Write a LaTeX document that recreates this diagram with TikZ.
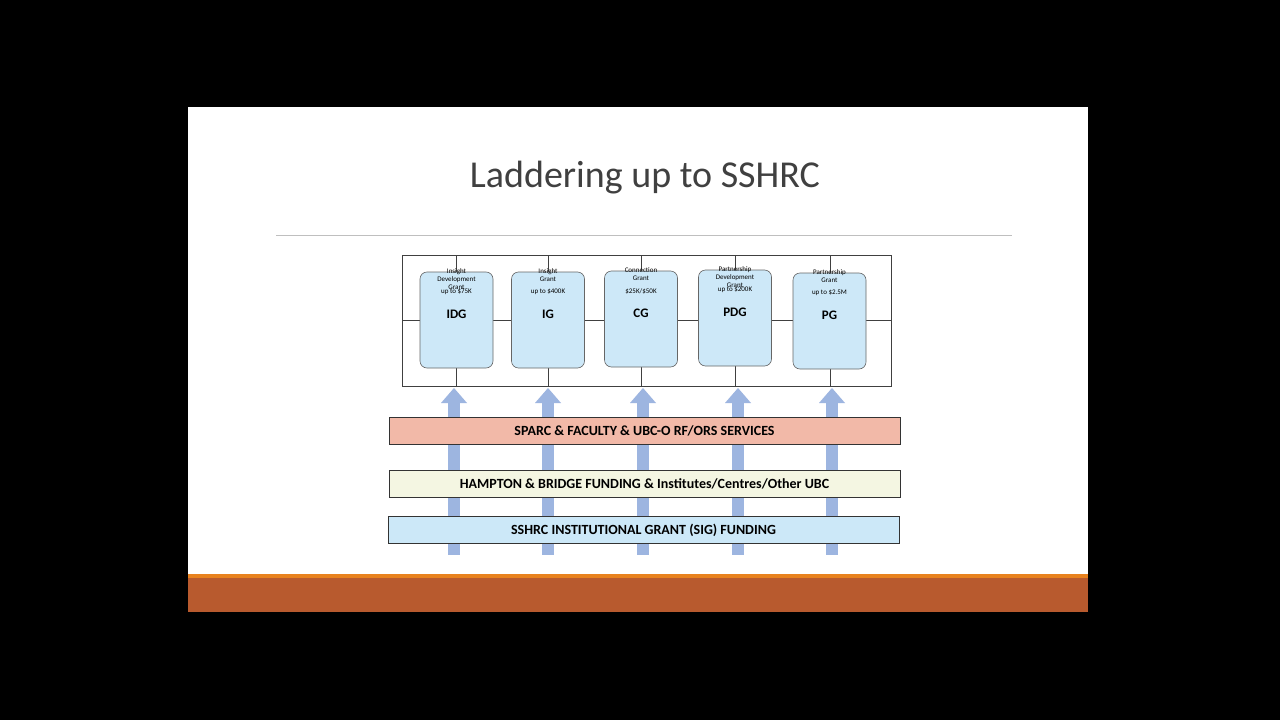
\documentclass[tikz,border=0pt]{standalone}
\usepackage{fontspec}
\setmainfont{Carlito}
\usetikzlibrary{arrows.meta}
\definecolor{rust}{HTML}{B85A2E}
\definecolor{orng}{HTML}{E8821E}
\definecolor{boxblue}{HTML}{CDE8F8}
\definecolor{arrblue}{HTML}{9DB5E0}
\definecolor{salmon}{HTML}{F2B9A8}
\definecolor{cream}{HTML}{F4F6E2}
\definecolor{sigblue}{HTML}{CCE8F8}
\begin{document}
\begin{tikzpicture}[x=1pt,y=-1pt,
  grant/.style={draw=gray!80!black,fill=boxblue,rounded corners=7pt,minimum width=73pt,line width=0.6pt},
  band/.style={draw=black!80,line width=0.6pt,minimum width=511pt,minimum height=27pt,font=\bfseries\fontsize{14}{16}\selectfont},
  uparr/.style={draw=none,fill=arrblue},
  grid/.style={draw=black!75,line width=0.6pt}]
\fill[black] (0,0) rectangle (1280,720);
\useasboundingbox (0,0) rectangle (1280,720);
\fill[white] (188,107) rectangle (1088,612);
\fill[rust] (188,578) rectangle (1088,612);
\fill[orng] (188,574) rectangle (1088,578);
\node[text=black!75,font=\fontsize{38}{44}\selectfont] (title) at (645,178) {Laddering up to SSHRC};
\draw[black!25,line width=0.7pt] (276,235) -- (1012,235);
% arrows (behind)
\foreach \n/\x in {a/454,b/548,c/643,d/738,e/832}{
  \coordinate (s\n) at (\x,555);
  \coordinate (t\n) at (\x,388);
  \fill[uparr] (\x-6,555) rectangle (\x+6,402);
  \fill[uparr] (\x-13,403) -- (\x,388) -- (\x+13,403) -- cycle;
}
% grid
\draw[grid] (402,255) rectangle (891,386);
\draw[grid] (402,320) -- (891,320);
\foreach \x in {456,548,641,735,830} \draw[grid] (\x,255) -- (\x,386);
% grants
\newcommand{\gr}[5]{\node[grant,minimum height=96pt] (#1) at (#2) {};
 \node[font=\fontsize{7}{8}\selectfont,align=center,anchor=north] at ([yshift=7pt]#1.north) {#3};
 \node[font=\bfseries\fontsize{13}{15}\selectfont] at ([yshift=6pt]#1.center) {#4};
 \node[font=\fontsize{7}{8}\selectfont] at ([yshift=28pt]#1.center) {#5};}
\gr{idg}{456.5,320}{Insight\\Development\\Grant}{IDG}{up to \$75K}
\gr{ig}{548,320}{Insight\\Grant}{IG}{up to \$400K}
\gr{cg}{641,319}{Connection\\Grant}{CG}{\$25K/\$50K}
\gr{pdg}{735,318}{Partnership\\Development\\Grant}{PDG}{up to \$200K}
\gr{pg}{829.5,321}{Partnership\\Grant}{PG}{up to \$2.5M}
% bands
\node[band,fill=salmon] (sparc) at (644.5,430.5) {SPARC \& FACULTY \& UBC-O RF/ORS SERVICES};
\node[band,fill=cream] (hamp) at (644.5,483.5) {HAMPTON \& BRIDGE FUNDING \& Institutes/Centres/Other UBC};
\node[band,fill=sigblue] (sig) at (643.5,530) {SSHRC INSTITUTIONAL GRANT (SIG) FUNDING};
\end{tikzpicture}
\end{document}
